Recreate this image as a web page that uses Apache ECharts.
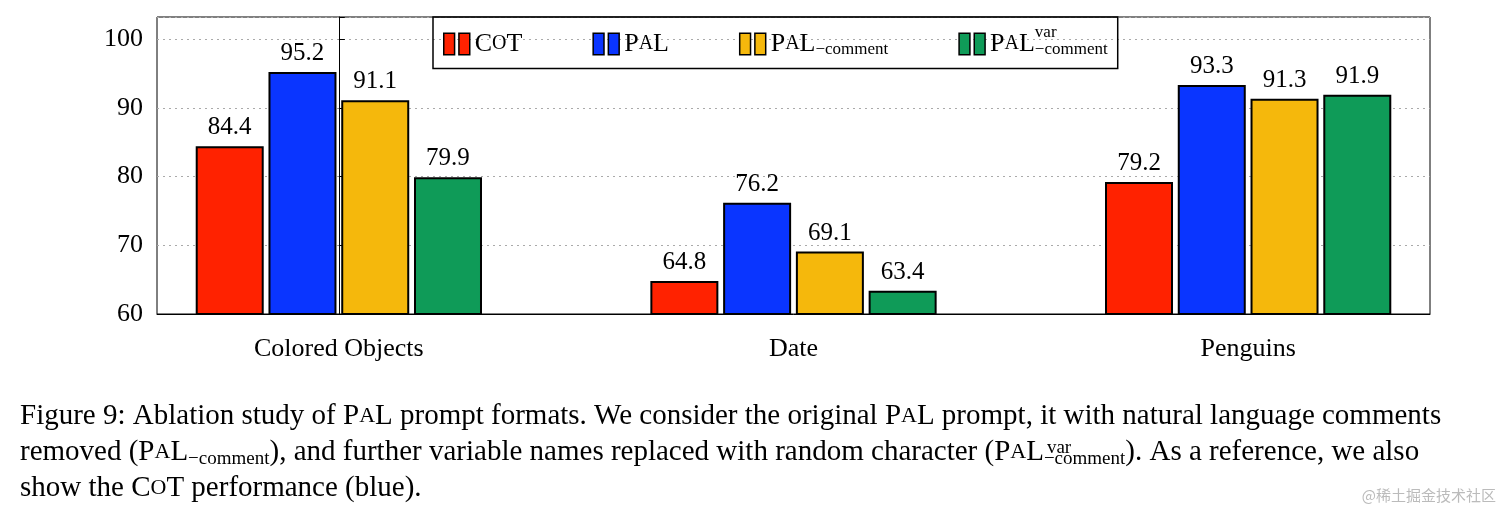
<!DOCTYPE html>
<html>
<head>
<meta charset="utf-8">
<script src="https://cdn.jsdelivr.net/npm/echarts@6/dist/echarts.min.js"></script>
<style>html,body{margin:0;padding:0;background:#fff}</style>
</head>
<body>
<div id="main" style="width:1512px;height:518px;"></div>
<script>
var categories = ['Colored Objects', 'Date', 'Penguins'];
var seriesNames = ['CoT', 'PaL', 'PaL_comment', 'PaL_comment_var'];
var cotValues = [84.4, 64.8, 79.2];
var palValues = [95.2, 76.2, 93.3];
var palCommentValues = [91.1, 69.1, 91.3];
var palVarValues = [79.9, 63.4, 91.9];
var colors = ['#ff2200', '#0a35ff', '#f5b80c', '#0f9b58'];

var serif = '"Liberation Serif", "DejaVu Serif", serif';
var chart = echarts.init(document.getElementById('main'));

// text width helper, used to put the "var" superscripts
var ctx = document.createElement('canvas').getContext('2d');
function segWidth(segs) {
    var w = 0;
    segs.forEach(function (s) { ctx.font = s[1] + 'px ' + serif; w += ctx.measureText(s[0]).width; });
    return w;
}

function makeSeries(name, data, color) {
    return {
        name: name,
        type: 'bar',
        data: data.map(function (v, i) { return [i, v]; }),
        barWidth: 68,
        barGap: '7%',
        itemStyle: { color: color, borderColor: '#000', borderWidth: 2 },
        label: { show: true, position: 'top', distance: 6, color: '#000', fontFamily: serif, fontSize: 25,
                 formatter: function (p) { return p.value[1].toFixed(1); } }
    };
}

var LF = 26, LS = 20, LSUB = 17;
var rich = {
    n: { fontFamily: serif, fontSize: LF, color: '#000' },
    sc: { fontFamily: serif, fontSize: LS, color: '#000' },
    sub: { fontFamily: serif, fontSize: LSUB, color: '#000', padding: [12, 0, 0, 0] }
};

// legend layout estimate
var legendLeft = 433, legendPad = 10, iconW = 26, legendGap = 70;
var legTexts = [
    [['C', LF], ['O', LS], ['T', LF]],
    [['P', LF], ['A', LS], ['L', LF]],
    [['P', LF], ['A', LS], ['L', LF], ['\u2212comment', LSUB]],
    [['P', LF], ['A', LS], ['L', LF], ['\u2212comment', LSUB]]
];
var lx = legendLeft + legendPad;
for (var i = 0; i < 3; i++) lx += iconW + 5 + segWidth(legTexts[i]) + legendGap;
var legendVarX = lx + iconW + 5 + segWidth([['P', LF], ['A', LS], ['L', LF]]) + 3;

var CF = 29, CS = 22, CU = 19;
var capVarX = 20 + segWidth([['removed (P', CF], ['A', CS], ['L', CF], ['\u2212comment', CU],
    ['), and further variable names replaced with random character (P', CF], ['A', CS], ['L', CF]]) + 3;

var option = {
    animation: false,
    grid: { left: 157, right: 82, top: 17, bottom: 204, show: true, borderColor: '#000', borderWidth: 1 },
    legend: {
        data: seriesNames,
        left: legendLeft, top: 17, width: 720, height: 54,
        padding: [14, legendPad, 10, legendPad],
        itemGap: legendGap,
        borderColor: '#000', borderWidth: 1.5,
        icon: 'path://M0,0H10V20H0Z M14,0H24V20H14Z',
        itemWidth: iconW, itemHeight: 22,
        itemStyle: { borderColor: '#000', borderWidth: 1.5 },
        formatter: function (name) {
            if (name === 'CoT') return '{n|C}{sc|O}{n|T}';
            if (name === 'PaL') return '{n|P}{sc|A}{n|L}';
            return '{n|P}{sc|A}{n|L}{sub|\u2212comment}';
        },
        textStyle: { rich: rich }
    },
    xAxis: {
        type: 'value', min: -0.4, max: 2.4,
        splitLine: { show: false },
        axisLine: { lineStyle: { color: '#000' } },
        axisTick: { show: false },
        axisLabel: { color: '#000', fontFamily: serif, fontSize: 26, margin: 22,
                     customValues: [0, 1, 2],
                     formatter: function (v) { return categories[Math.round(v)] || ''; } }
    },
    yAxis: {
        type: 'value', min: 60, max: 103.2, interval: 10,
        axisLine: { show: true, lineStyle: { color: '#000' } },
        axisTick: { show: true, inside: true, length: 6, lineStyle: { color: '#000' } },
        axisLabel: { color: '#000', fontFamily: serif, fontSize: 26, margin: 14,
                     formatter: function (v) { return v % 10 === 0 ? v : ''; } },
        splitLine: { lineStyle: { color: '#aaa', type: [2, 4] } }
    },
    series: [
        makeSeries(seriesNames[0], cotValues, colors[0]),
        makeSeries(seriesNames[1], palValues, colors[1]),
        makeSeries(seriesNames[2], palCommentValues, colors[2]),
        makeSeries(seriesNames[3], palVarValues, colors[3])
    ],
    graphic: [
        {
            type: 'text', left: 20, top: 402,
            style: {
                text: '{n|Figure 9: Ablation study of P}{s|A}{n|L prompt formats. We consider the original P}{s|A}{n|L prompt, it with natural language comments}\n' +
                      '{n|removed (P}{s|A}{n|L}{u|\u2212comment}{n|), and further variable names replaced with random character (P}{s|A}{n|L}{u|\u2212comment}{n|). As a reference, we also}\n' +
                      '{n|show the C}{s|O}{n|T performance (blue).}',
                rich: {
                    n: { fontFamily: serif, fontSize: CF, color: '#000', lineHeight: 36 },
                    s: { fontFamily: serif, fontSize: CS, color: '#000', lineHeight: 36 },
                    u: { fontFamily: serif, fontSize: CU, color: '#000', lineHeight: 36, padding: [14, 0, 0, 0] }
                }
            }
        },
        { type: 'text', left: capVarX, top: 439, style: { text: 'var', fontFamily: serif, fontSize: CU, fill: '#000' } },
        { type: 'text', left: legendVarX, top: 24, style: { text: 'var', fontFamily: serif, fontSize: LSUB, fill: '#000' } },
        { type: 'text', right: 16, top: 488, style: { text: '@稀土掘金技术社区', fontFamily: '"Noto Sans CJK SC"', fontSize: 15, fill: '#bbb' } }
    ]
};
chart.setOption(option);
</script>
</body>
</html>
